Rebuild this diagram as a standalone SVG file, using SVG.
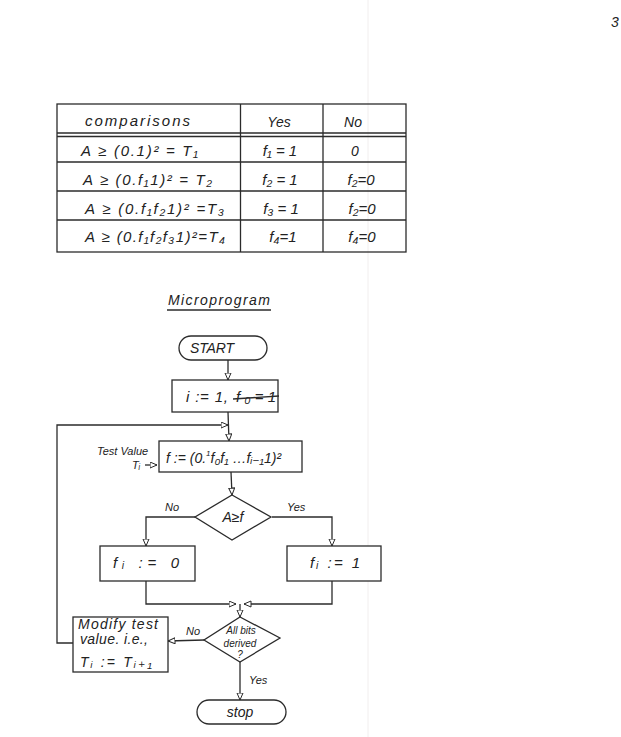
<svg xmlns="http://www.w3.org/2000/svg" width="621" height="737" viewBox="0 0 621 737">
<style>
.ln{stroke:#2b2b2b;stroke-width:1.3;fill:none}
.bx{stroke:#2b2b2b;stroke-width:1.3;fill:#fff}
.t{font-family:"Liberation Sans","DejaVu Sans",sans-serif;font-style:italic;fill:#222;font-size:14px}
.c{text-anchor:middle}
.s{font-size:11px}
.xs{font-size:10px}
.r{font-size:15px}
</style>
<defs>
<marker id="ah" markerWidth="9" markerHeight="8" refX="7.5" refY="3.5" orient="auto" markerUnits="userSpaceOnUse">
<path d="M0.5,0.5 L7.5,3.5 L0.5,6.5 Z" fill="#fff" stroke="#2b2b2b" stroke-width="1"/>
</marker>
</defs>
<rect width="621" height="737" fill="#fff"/>
<line x1="368" y1="0" x2="368" y2="737" stroke="#f1eeee" stroke-width="1"/>
<text class="t" x="611" y="27" font-size="14">3</text>

<g id="table">
<rect class="ln" x="57" y="104" width="349" height="148"/>
<line class="ln" x1="57" y1="133" x2="406" y2="133"/>
<line class="ln" x1="57" y1="136.5" x2="406" y2="136.5"/>
<line class="ln" x1="57" y1="162" x2="406" y2="162"/>
<line class="ln" x1="57" y1="191" x2="406" y2="191"/>
<line class="ln" x1="57" y1="220" x2="406" y2="220"/>
<line class="ln" x1="240.5" y1="104" x2="240.5" y2="252"/>
<line class="ln" x1="323" y1="104" x2="323" y2="252"/>
<text class="t r" x="85" y="126" textLength="105" lengthAdjust="spacing">comparisons</text>
<text class="t c" x="279" y="127">Yes</text>
<text class="t c" x="353" y="127">No</text>
<text class="t r" x="81" y="156" textLength="117" lengthAdjust="spacing">A ≥ (0.1)² = T₁</text>
<text class="t c r" x="280" y="156">f₁ = 1</text>
<text class="t c" x="355" y="156" font-size="11">0</text>
<text class="t r" x="83" y="185" textLength="129" lengthAdjust="spacing">A ≥ (0.f₁1)² = T₂</text>
<text class="t c r" x="280" y="185">f₂ = 1</text>
<text class="t c r" x="361" y="185">f₂=0</text>
<text class="t r" x="85" y="214" textLength="139" lengthAdjust="spacing">A ≥ (0.f₁f₂1)² =T₃</text>
<text class="t c r" x="281" y="214">f₃ = 1</text>
<text class="t c r" x="362" y="214">f₂=0</text>
<text class="t r" x="85" y="242" textLength="140" lengthAdjust="spacing">A ≥ (0.f₁f₂f₃1)²=T₄</text>
<text class="t c r" x="283" y="242">f₄=1</text>
<text class="t c r" x="362" y="242">f₄=0</text>
</g>

<g id="title">
<text class="t" x="168" y="305" font-size="15" textLength="102" lengthAdjust="spacing">Microprogram</text>
<line class="ln" x1="167" y1="310" x2="271" y2="310"/>
</g>

<g id="connectors">
<line class="ln" x1="228" y1="360" x2="228" y2="380" marker-end="url(#ah)"/>
<line class="ln" x1="228" y1="412" x2="229" y2="441" marker-end="url(#ah)"/>
<polyline class="ln" points="73,643 57,643 57,425 228,425" marker-end="url(#ah)"/>
<line class="ln" x1="145" y1="465" x2="157" y2="465" marker-end="url(#ah)"/>
<line class="ln" x1="231" y1="472" x2="232" y2="495" marker-end="url(#ah)"/>
<polyline class="ln" points="195,517 146,517 146,546" marker-end="url(#ah)"/>
<polyline class="ln" points="272,517 332,517 332,546" marker-end="url(#ah)"/>
<polyline class="ln" points="146,581 146,604 236,604" marker-end="url(#ah)"/>
<polyline class="ln" points="332,581 332,604 244,604" marker-end="url(#ah)"/>
<line class="ln" x1="240" y1="604" x2="240" y2="617" marker-end="url(#ah)"/>
<line class="ln" x1="204" y1="640" x2="168" y2="641" marker-end="url(#ah)"/>
<line class="ln" x1="240" y1="662" x2="240" y2="700" marker-end="url(#ah)"/>
<text class="t s" x="165" y="511">No</text>
<text class="t s" x="287" y="511">Yes</text>
<text class="t s" x="186" y="635">No</text>
<text class="t s" x="249" y="684">Yes</text>
</g>

<g id="start">
<rect class="bx" x="179" y="336" width="88" height="24" rx="12"/>
<text class="t" x="190" y="353" textLength="44" lengthAdjust="spacing">START</text>
</g>

<g id="init">
<rect class="bx" x="172" y="380" width="106" height="32"/>
<text class="t r" x="186" y="402" textLength="42" lengthAdjust="spacing">i := 1,</text>
<text class="t r" x="236" y="402" textLength="40" lengthAdjust="spacing">f₀=1</text>
<line class="ln" x1="233" y1="399" x2="279" y2="396"/>
</g>

<g id="test">
<text class="t s" x="97" y="455">Test Value</text>
<text class="t s" x="132" y="469">Tᵢ</text>
<rect class="bx" x="159" y="441" width="143" height="31"/>
<text class="t" x="166" y="463">f := (0.<tspan font-size="8" dy="-7">1</tspan><tspan dy="7">f₀f₁ …fᵢ₋₁1)²</tspan></text>
</g>

<g id="cmp">
<polygon class="bx" points="232,495 271,517 232,540 195,517"/>
<text class="t c" x="233" y="522">A≥f</text>
</g>

<g id="set0">
<rect class="bx" x="100" y="546" width="95" height="35"/>
<text class="t r" x="113" y="568" textLength="66" lengthAdjust="spacing">fᵢ := 0</text>
</g>

<g id="set1">
<rect class="bx" x="287" y="546" width="94" height="35"/>
<text class="t r" x="310" y="568" textLength="50" lengthAdjust="spacing">fᵢ := 1</text>
</g>

<g id="done">
<polygon class="bx" points="240,617 280,638 240,662 204,640"/>
<text class="t c xs" x="241" y="634">All bits</text>
<text class="t c xs" x="240" y="647">derived</text>
<text class="t c xs" x="240" y="658">?</text>
</g>

<g id="modify">
<rect class="bx" x="73" y="617" width="95" height="55"/>
<text class="t" x="78" y="629" font-size="11" textLength="80" lengthAdjust="spacing">Modify test</text>
<text class="t" x="80" y="644" font-size="11" textLength="68" lengthAdjust="spacing">value. i.e.,</text>
<text class="t" x="80" y="667" textLength="72" lengthAdjust="spacing">Tᵢ := Tᵢ₊₁</text>
</g>

<g id="stop">
<rect class="bx" x="197" y="700" width="89" height="24" rx="12"/>
<text class="t c" x="240" y="717">stop</text>
</g>
</svg>
